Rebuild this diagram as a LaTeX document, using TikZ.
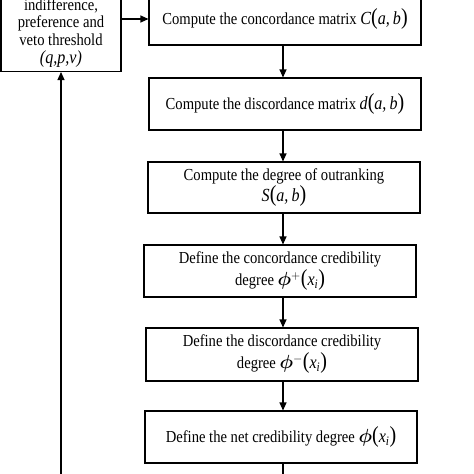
\documentclass[tikz,border=0pt]{standalone}
\usepackage{fontspec}
\usepackage{amsmath}
\setmainfont{Liberation Serif}[FakeStretch=0.87]
\usetikzlibrary{arrows.meta}
\newcommand{\mth}[1]{{\fontsize{18.5}{18.5}\selectfont\itshape #1}}
\newcommand{\lp}{{\fontsize{23}{23}\selectfont\upshape(}}
\newcommand{\rp}{{\fontsize{23}{23}\selectfont\upshape)}}
\newcommand{\phib}{\scalebox{1.1}{$\boldsymbol{\phi}$}}
\begin{document}
\begin{tikzpicture}[x=1pt,y=-1pt,
  box/.style={draw, line width=1.1pt, minimum width=272pt, minimum height=52pt,
    align=center, inner sep=1pt, font=\fontsize{16.8}{20}\selectfont},
  arr/.style={-{Triangle[length=8pt,width=7pt]}, line width=1.1pt}]
\useasboundingbox (0,0) rectangle (474,474);
\fill[white] (0,0) rectangle (474,474);
\clip (0,0) rectangle (474,474);
\coordinate (col) at (283,0);
\node[box] (b1) at (285,19) {Compute the concordance matrix \mth{C\lp a,\,b\rp}};
\node[box] (b2) at (285,104) {Compute the discordance matrix \mth{d\lp a,\,b\rp}};
\node[box, minimum height=51pt] (b3) at (284,187.5) {Compute the degree of outranking\\[1pt] \mth{S\lp a,\,b\rp}};
\node[box] (b4) at (280,271) {Define the concordance credibility\\[2pt] degree \mth{\phib$^{+}$\lp x\textsubscript{i}\rp}};
\node[box, minimum height=53pt] (b5) at (282,354.5) {Define the discordance credibility\\[2pt] degree \mth{\phib$^{-}$\lp x\textsubscript{i}\rp}};
\node[box] (b6) at (281,437) {Define the net credibility degree \mth{\phib\lp x\textsubscript{i}\rp}};
\node[draw, line width=1.1pt, anchor=south, inner xsep=2pt, inner ysep=4pt,
  font=\fontsize{16.8}{17.5}\selectfont] (lb) at (61,72)
  {\parbox[b][110pt][b]{116pt}{\centering indifference,\\ preference and\\ veto threshold\\[1pt] \mth{(q,p,v)}}};
\coordinate (lend) at (61,480);
\coordinate (bend) at (283,480);
\draw[arr] (lb.east |- b1.west) -- (b1.west);
\draw[arr] (b1.south -| col) -- (b2.north -| col);
\draw[arr] (b2.south -| col) -- (b3.north -| col);
\draw[arr] (b3.south -| col) -- (b4.north -| col);
\draw[arr] (b4.south -| col) -- (b5.north -| col);
\draw[arr] (b5.south -| col) -- (b6.north -| col);
\draw[line width=1.1pt] (b6.south -| col) -- (bend);
\draw[arr] (lend) -- (lb.south);
\end{tikzpicture}
\end{document}
